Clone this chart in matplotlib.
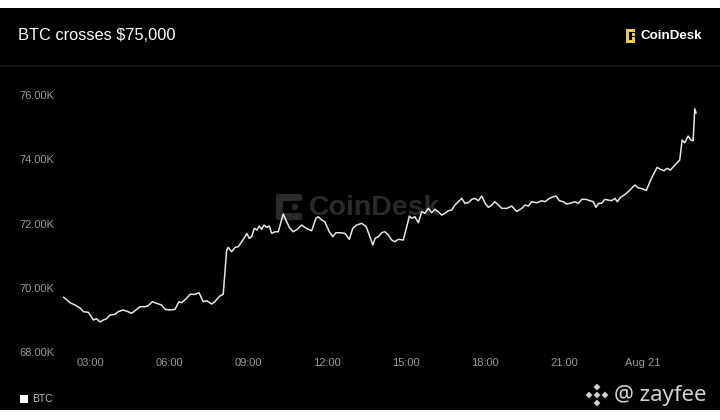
import matplotlib
matplotlib.use("Agg")
import matplotlib.pyplot as plt
from matplotlib.patches import Rectangle, FancyBboxPatch, Polygon

# ---- data (hours since Aug 20 00:00, BTC price in USD) ----
hours = [2.00, 2.05, 2.24, 2.43, 2.62, 2.75, 2.94, 3.13, 3.25, 3.38,
         3.51, 3.63, 3.76, 3.95, 4.07, 4.26, 4.45, 4.58, 4.77, 4.90,
         5.09, 5.21, 5.37, 5.53, 5.72, 5.85, 6.04, 6.23, 6.38, 6.48,
         6.67, 6.80, 6.99, 7.14, 7.30, 7.43, 7.62, 7.74, 7.93, 8.06,
         8.19, 8.25, 8.38, 8.51, 8.63, 8.76, 8.89, 8.95, 9.05, 9.14,
         9.24, 9.34, 9.43, 9.52, 9.61, 9.71, 9.81, 9.90, 10.03, 10.15,
         10.24, 10.34, 10.44, 10.57, 10.72, 10.87, 11.04, 11.16, 11.29, 11.42,
         11.58, 11.67, 11.80, 11.92, 12.09, 12.22, 12.34, 12.50, 12.68, 12.85,
         12.98, 13.13, 13.32, 13.49, 13.61, 13.74, 13.83, 13.95, 14.08, 14.20,
         14.33, 14.46, 14.58, 14.71, 14.90, 15.03, 15.13, 15.22, 15.34, 15.47,
         15.60, 15.72, 15.85, 15.98, 16.10, 16.23, 16.36, 16.48, 16.61, 16.74,
         16.86, 16.99, 17.12, 17.24, 17.37, 17.50, 17.62, 17.75, 17.88, 18.01,
         18.13, 18.26, 18.38, 18.51, 18.64, 18.83, 19.02, 19.21, 19.40, 19.53,
         19.65, 19.78, 19.97, 20.16, 20.28, 20.45, 20.60, 20.70, 20.83, 20.98,
         21.10, 21.23, 21.42, 21.55, 21.68, 21.84, 21.99, 22.12, 22.22, 22.31,
         22.43, 22.56, 22.68, 22.81, 22.94, 23.03, 23.15, 23.32, 23.44, 23.57,
         23.70, 23.82, 23.99, 24.13, 24.27, 24.39, 24.54, 24.67, 24.80, 24.92,
         25.05, 25.18, 25.30, 25.40, 25.49, 25.59, 25.72, 25.82, 25.91, 25.97,
         26.02]
btc = [69710, 69680, 69544, 69473, 69380, 69265, 69246, 69008, 69048, 68946,
       69008, 69048, 69163, 69184, 69265, 69318, 69265, 69215, 69339, 69420,
       69420, 69451, 69575, 69525, 69473, 69339, 69318, 69339, 69575, 69544,
       69680, 69804, 69804, 69854, 69575, 69606, 69504, 69575, 69752, 69804,
       71178, 71261, 71125, 71261, 71280, 71435, 71590, 71695, 71540, 71590,
       71850, 71798, 71922, 71819, 71953, 71881, 71922, 71695, 71745, 71745,
       72005, 72294, 72108, 71881, 71745, 71819, 71953, 71881, 71819, 71776,
       72160, 72210, 72108, 72055, 71745, 71590, 71714, 71714, 71695, 71509,
       71850, 71953, 72005, 71900, 71643, 71333, 71540, 71590, 71714, 71745,
       71643, 71488, 71435, 71509, 71488, 71900, 72232, 72160, 72210, 72024,
       72365, 72315, 72470, 72334, 72439, 72365, 72263, 72315, 72396, 72418,
       72573, 72675, 72780, 72625, 72644, 72749, 72780, 72706, 72852, 72625,
       72501, 72573, 72675, 72573, 72470, 72470, 72542, 72371, 72470, 72573,
       72542, 72675, 72644, 72706, 72675, 72780, 72830, 72852, 72706, 72675,
       72604, 72625, 72675, 72625, 72749, 72749, 72706, 72675, 72501, 72625,
       72625, 72749, 72728, 72706, 72780, 72675, 72811, 72898, 72985, 73090,
       73193, 73106, 73075, 73022, 73295, 73503, 73741, 73679, 73636, 73710,
       73658, 73782, 73884, 73968, 74588, 74504, 74712, 74588, 74566, 75560,
       75430]
x_ticks = [3, 6, 9, 12, 15, 18, 21, 24]
x_labels = ["03:00", "06:00", "09:00", "12:00", "15:00", "18:00", "21:00", "Aug 21"]
y_ticks = [68000, 70000, 72000, 74000, 76000]
y_labels = ["68.00K", "70.00K", "72.00K", "74.00K", "76.00K"]
title = "BTC crosses $75,000"
series_name = "BTC"

W, H = 720, 420
plt.rcParams['font.family'] = ['Liberation Sans', 'DejaVu Sans']
fig = plt.figure(figsize=(7.2, 4.2), dpi=100, facecolor="white")

def fx(px):
    return px / W

def fy(py):
    return 1 - py / H

def rect(x0, y0, w, h, color, z=2, rounded=False):
    if rounded:
        p = FancyBboxPatch((fx(x0), fy(y0 + h)), w / W, h / H,
                           boxstyle="round,pad=0,rounding_size=0.004",
                           transform=fig.transFigure, facecolor=color,
                           edgecolor="none", zorder=z)
    else:
        p = Rectangle((fx(x0), fy(y0 + h)), w / W, h / H, transform=fig.transFigure,
                      facecolor=color, edgecolor="none", zorder=z)
    fig.patches.append(p)

# black panel
rect(0, 8, W, 402, "black", z=0)
# separator under the title bar
fig.add_artist(plt.Line2D([0, 1], [fy(66), fy(66)], transform=fig.transFigure,
                          color="#161616", lw=1.2, zorder=1))

# title and brand
fig.text(fx(18), fy(35), title, color="white", fontsize=11.8, va="center", ha="left")
fig.text(fx(702), fy(36), "CoinDesk", color="white", fontsize=9.6, fontweight="bold",
         va="center", ha="right")
yel = "#e8c94a"
for (x0, y0, w, h) in [(626, 29, 3, 14), (626, 29, 9, 3), (626, 40, 9, 3),
                       (632, 33, 3, 3), (632, 37, 3, 3)]:
    rect(x0, y0, w, h, yel)

# centre watermark
wm = "#2a2a2a"
fig.text(fx(309), fy(208), "CoinDesk", color=wm, fontsize=20.5, fontweight="bold",
         ha="left", va="center", zorder=1)
for (x0, y0, w, h) in [(276, 194, 7, 26), (276, 194, 26, 7), (276, 213, 26, 7),
                       (292, 204, 6, 6)]:
    rect(x0, y0, w, h, wm, z=1, rounded=True)

# plot area
left, right, top, bottom = 60, 700, 80, 352.5
ax = fig.add_axes([fx(left), fy(bottom), (right - left) / W, (bottom - top) / H])
ax.set_facecolor("none")
ax.set_zorder(3)
ax.set_xlim(1.86, 26.17)
ax.set_ylim(68000, 76450)

ax.plot(hours, btc, color="#e6e6e6", lw=1.1, zorder=3)

for s in ax.spines.values():
    s.set_visible(False)
ax.set_xticks(x_ticks)
ax.set_xticklabels(x_labels)
ax.set_yticks(y_ticks)
ax.set_yticklabels(y_labels)
ax.tick_params(axis="both", length=0, colors="#9a9a9a", labelsize=8)
ax.tick_params(axis="y", pad=4)
ax.tick_params(axis="x", pad=4)
ax.grid(False)

# legend
rect(20, 395, 8, 8, "white")
fig.text(fx(32), fy(399), series_name, color="#bbbbbb", fontsize=7.5, va="center", ha="left")

# photo watermark
fig.text(fx(614), fy(395), "@ zayfee", color="#d2d2d2", fontsize=16,
         family=["Noto Sans", "DejaVu Sans"], va="center", ha="left")
cx, cy = 597, 395
for (dx, dy) in [(0, -8), (-8, 0), (8, 0), (0, 8), (0, 0)]:
    r = 3.4
    px, py = cx + dx, cy + dy
    pts = [(fx(px), fy(py - r)), (fx(px + r), fy(py)), (fx(px), fy(py + r)), (fx(px - r), fy(py))]
    fig.patches.append(Polygon(pts, closed=True, transform=fig.transFigure,
                               facecolor="#d2d2d2", edgecolor="none", zorder=2))

fig.savefig("out.png", dpi=100, facecolor=fig.get_facecolor())
